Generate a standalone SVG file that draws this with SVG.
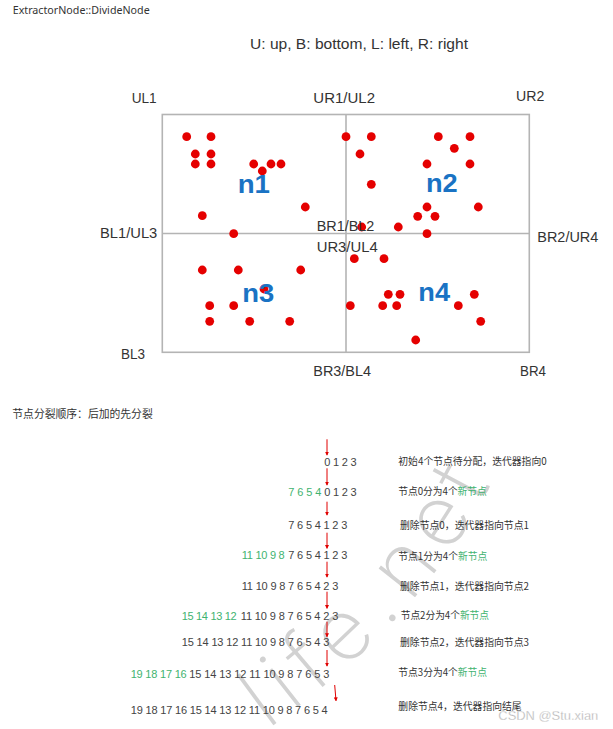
<svg xmlns="http://www.w3.org/2000/svg" width="613" height="729" viewBox="0 0 613 729">
<style>
.lbl{font-family:"Liberation Sans","Noto Sans",sans-serif;font-size:15px;fill:#333}
.nl{font-family:"Liberation Sans",sans-serif;font-weight:bold;font-size:26px;fill:#1a73c4}
.dot{fill:#e50000}
.grid{fill:none;stroke:#b4b4b4;stroke-width:1.6}
.num{font-family:"Liberation Sans",sans-serif;font-size:11px;fill:#444}
.g{fill:#3fb370}
.note{font-family:"Noto Sans CJK SC","Noto Sans",sans-serif;font-size:9.8px;fill:#333}
.arr{stroke:#e00000;stroke-width:1;fill:none;marker-end:url(#ah)}
.wm{font-family:"Inter","Lato",sans-serif;font-weight:200;font-size:85px;fill:#d2d2d2;letter-spacing:11px}
</style>
<defs>
<marker id="ah" viewBox="0 0 6 6" refX="5" refY="3" markerWidth="4" markerHeight="4" orient="auto" markerUnits="userSpaceOnUse">
<path d="M0,0 L6,3 L0,6 z" fill="#e00000"/>
</marker>
<path id="wmpath" d="M230,755 Q430,625 505,455"/>
</defs>
<rect width="613" height="729" fill="#fff"/>

<g id="watermark">
<text class="wm"><textPath href="#wmpath" startOffset="45">life.net</textPath></text>
</g>

<text x="12.7" y="14" font-family="Noto Sans,sans-serif" font-size="10.5" fill="#333" textLength="137" lengthAdjust="spacingAndGlyphs">ExtractorNode::DivideNode</text>
<text class="lbl" x="250" y="49" textLength="218" lengthAdjust="spacingAndGlyphs">U: up, B: bottom, L: left, R: right</text>

<g id="quadtree">
<rect class="grid" x="162.3" y="114.5" width="367" height="237.8"/>
<line class="grid" x1="346" y1="114.5" x2="346" y2="352.3"/>
<line class="grid" x1="162.3" y1="233.5" x2="529.3" y2="233.5"/>
</g>

<g id="n1">
<circle class="dot" cx="186.7" cy="136.7" r="4.4"/><circle class="dot" cx="211" cy="136.7" r="4.4"/>
<circle class="dot" cx="195.3" cy="154" r="4.4"/><circle class="dot" cx="211" cy="154" r="4.4"/>
<circle class="dot" cx="195.3" cy="164" r="4.4"/><circle class="dot" cx="211" cy="164" r="4.4"/>
<circle class="dot" cx="253.7" cy="164" r="4.4"/><circle class="dot" cx="271" cy="164" r="4.4"/>
<circle class="dot" cx="281" cy="164" r="4.4"/><circle class="dot" cx="262.3" cy="171" r="4.4"/>
<circle class="dot" cx="305.3" cy="207" r="4.4"/><circle class="dot" cx="202.3" cy="215.7" r="4.4"/>
<circle class="dot" cx="233.7" cy="233.7" r="4.4"/>
<text class="nl" x="237.7" y="192.7" textLength="32.3" lengthAdjust="spacingAndGlyphs">n1</text>
</g>
<g id="n2">
<circle class="dot" cx="346" cy="136.7" r="4.4"/><circle class="dot" cx="371.3" cy="136.7" r="4.4"/>
<circle class="dot" cx="438.3" cy="136.7" r="4.4"/><circle class="dot" cx="470" cy="136.7" r="4.4"/>
<circle class="dot" cx="454.3" cy="148.3" r="4.4"/><circle class="dot" cx="360" cy="154" r="4.4"/>
<circle class="dot" cx="427" cy="164" r="4.4"/><circle class="dot" cx="470" cy="164" r="4.4"/>
<circle class="dot" cx="371.3" cy="184.3" r="4.4"/><circle class="dot" cx="427" cy="207" r="4.4"/>
<circle class="dot" cx="478.3" cy="207" r="4.4"/><circle class="dot" cx="417.7" cy="216.3" r="4.4"/>
<circle class="dot" cx="435" cy="216.3" r="4.4"/><circle class="dot" cx="398.3" cy="227" r="4.4"/>
<circle class="dot" cx="361.7" cy="227" r="4.4"/><circle class="dot" cx="427" cy="233.7" r="4.4"/>
<text class="nl" x="426" y="192.3" textLength="31.7" lengthAdjust="spacingAndGlyphs">n2</text>
</g>
<g id="n3">
<circle class="dot" cx="202.3" cy="270" r="4.4"/><circle class="dot" cx="238.3" cy="270" r="4.4"/>
<circle class="dot" cx="300.7" cy="270" r="4.4"/><circle class="dot" cx="264" cy="289" r="4.4"/>
<circle class="dot" cx="209.7" cy="305.7" r="4.4"/><circle class="dot" cx="233.7" cy="305.7" r="4.4"/>
<circle class="dot" cx="209.7" cy="321.3" r="4.4"/><circle class="dot" cx="249.7" cy="321.3" r="4.4"/>
<circle class="dot" cx="289.7" cy="321.3" r="4.4"/>
<text class="nl" x="242.3" y="301.7" textLength="32" lengthAdjust="spacingAndGlyphs">n3</text>
</g>
<g id="n4">
<circle class="dot" cx="354.3" cy="258.7" r="4.4"/><circle class="dot" cx="384" cy="258.7" r="4.4"/>
<circle class="dot" cx="388.3" cy="294.3" r="4.4"/><circle class="dot" cx="400" cy="294.3" r="4.4"/>
<circle class="dot" cx="474.3" cy="294.3" r="4.4"/><circle class="dot" cx="350.3" cy="305.7" r="4.4"/>
<circle class="dot" cx="382.7" cy="305.7" r="4.4"/><circle class="dot" cx="396.7" cy="305.7" r="4.4"/>
<circle class="dot" cx="458.3" cy="305.7" r="4.4"/><circle class="dot" cx="480.7" cy="321.3" r="4.4"/>
<circle class="dot" cx="415.7" cy="340" r="4.4"/>
<text class="nl" x="418.3" y="301.3" textLength="31.7" lengthAdjust="spacingAndGlyphs">n4</text>
</g>

<g id="corner-labels">
<text class="lbl" x="131.7" y="103.3" textLength="25" lengthAdjust="spacingAndGlyphs">UL1</text>
<text class="lbl" x="313.3" y="103.3" textLength="61.7" lengthAdjust="spacingAndGlyphs">UR1/UL2</text>
<text class="lbl" x="516" y="100.7" textLength="28.3" lengthAdjust="spacingAndGlyphs">UR2</text>
<text class="lbl" x="100" y="238.3" textLength="57.3" lengthAdjust="spacingAndGlyphs">BL1/UL3</text>
<text class="lbl" x="537.3" y="241.7" textLength="61" lengthAdjust="spacingAndGlyphs">BR2/UR4</text>
<text class="lbl" x="316.7" y="231" textLength="57.6" lengthAdjust="spacingAndGlyphs">BR1/BL2</text>
<text class="lbl" x="316.7" y="251.7" textLength="61" lengthAdjust="spacingAndGlyphs">UR3/UL4</text>
<text class="lbl" x="121" y="359" textLength="24" lengthAdjust="spacingAndGlyphs">BL3</text>
<text class="lbl" x="313.3" y="376" textLength="57.7" lengthAdjust="spacingAndGlyphs">BR3/BL4</text>
<text class="lbl" x="520" y="376" textLength="26" lengthAdjust="spacingAndGlyphs">BR4</text>
</g>

<text x="12.3" y="418" font-family="Noto Sans CJK SC,sans-serif" font-size="10.8" fill="#333" textLength="140.4" lengthAdjust="spacingAndGlyphs">节点分裂顺序：后加的先分裂</text>

<g id="connectors">
<line class="arr" x1="327" y1="439.3" x2="327" y2="455"/>
<line class="arr" x1="327" y1="468.3" x2="327" y2="485"/>
<line class="arr" x1="327" y1="501.7" x2="327" y2="515"/>
<line class="arr" x1="327" y1="532.7" x2="327" y2="548.3"/>
<line class="arr" x1="327" y1="561.7" x2="327" y2="577"/>
<line class="arr" x1="327" y1="591.7" x2="327" y2="608.3"/>
<line class="arr" x1="327" y1="621.7" x2="327" y2="636.7"/>
<line class="arr" x1="327" y1="650" x2="327" y2="666"/>
<line class="arr" x1="334.7" y1="685" x2="336" y2="700.7"/>
</g>

<g id="row1"><text class="num" x="324.3" y="466" textLength="32.4" lengthAdjust="spacing">0 1 2 3</text></g>
<g id="row2"><text class="num g" x="288.3" y="495.7" textLength="33" lengthAdjust="spacing">7 6 5 4</text><text class="num" x="324.3" y="495.7" textLength="32.4" lengthAdjust="spacing">0 1 2 3</text></g>
<g id="row3"><text class="num" x="288.3" y="528.7" textLength="59" lengthAdjust="spacing">7 6 5 4 1 2 3</text></g>
<g id="row4"><text class="num g" x="241.7" y="559.3" textLength="43" lengthAdjust="spacing">11 10 9 8</text><text class="num" x="288.3" y="559.3" textLength="59" lengthAdjust="spacing">7 6 5 4 1 2 3</text></g>
<g id="row5"><text class="num" x="241.7" y="590" textLength="96.6" lengthAdjust="spacing">11 10 9 8 7 6 5 4 2 3</text></g>
<g id="row6"><text class="num g" x="181.7" y="620" textLength="55" lengthAdjust="spacing">15 14 13 12</text><text class="num" x="240.7" y="620" textLength="97.6" lengthAdjust="spacing">11 10 9 8 7 6 5 4 2 3</text></g>
<g id="row7"><text class="num" x="181.7" y="646" textLength="147.6" lengthAdjust="spacing">15 14 13 12 11 10 9 8 7 6 5 4 3</text></g>
<g id="row8"><text class="num g" x="130.7" y="678.3" textLength="56" lengthAdjust="spacing">19 18 17 16</text><text class="num" x="189.3" y="678.3" textLength="140" lengthAdjust="spacing">15 14 13 12 11 10 9 8 7 6 5 3</text></g>
<g id="row9"><text class="num" x="130.7" y="714" textLength="197" lengthAdjust="spacing">19 18 17 16 15 14 13 12 11 10 9 8 7 6 5 4</text></g>

<g id="notes">
<text class="note" x="398.3" y="464.5" textLength="148.4" lengthAdjust="spacingAndGlyphs">初始4个节点待分配，迭代器指向0</text>
<text class="note" x="398.3" y="495" textLength="88.4" lengthAdjust="spacingAndGlyphs">节点0分为4个<tspan class="g">新节点</tspan></text>
<text class="note" x="400" y="528.5" textLength="129" lengthAdjust="spacingAndGlyphs">删除节点0，迭代器指向节点1</text>
<text class="note" x="398.3" y="560" textLength="89" lengthAdjust="spacingAndGlyphs">节点1分为4个<tspan class="g">新节点</tspan></text>
<text class="note" x="400" y="590" textLength="129" lengthAdjust="spacingAndGlyphs">删除节点1，迭代器指向节点2</text>
<text class="note" x="400.7" y="618.5" textLength="88.3" lengthAdjust="spacingAndGlyphs">节点2分为4个<tspan class="g">新节点</tspan></text>
<text class="note" x="400" y="646" textLength="129" lengthAdjust="spacingAndGlyphs">删除节点2，迭代器指向节点3</text>
<text class="note" x="398.3" y="675.5" textLength="88.7" lengthAdjust="spacingAndGlyphs">节点3分为4个<tspan class="g">新节点</tspan></text>
<text class="note" x="398.3" y="710" textLength="123.4" lengthAdjust="spacingAndGlyphs">删除节点4，迭代器指向结尾</text>
</g>

<text x="498.3" y="720" font-family="Liberation Sans,sans-serif" font-size="13.5" fill="#b0b0b0" stroke="#fff" stroke-width="0.3" textLength="100" lengthAdjust="spacingAndGlyphs">CSDN @Stu.xian</text>
</svg>
